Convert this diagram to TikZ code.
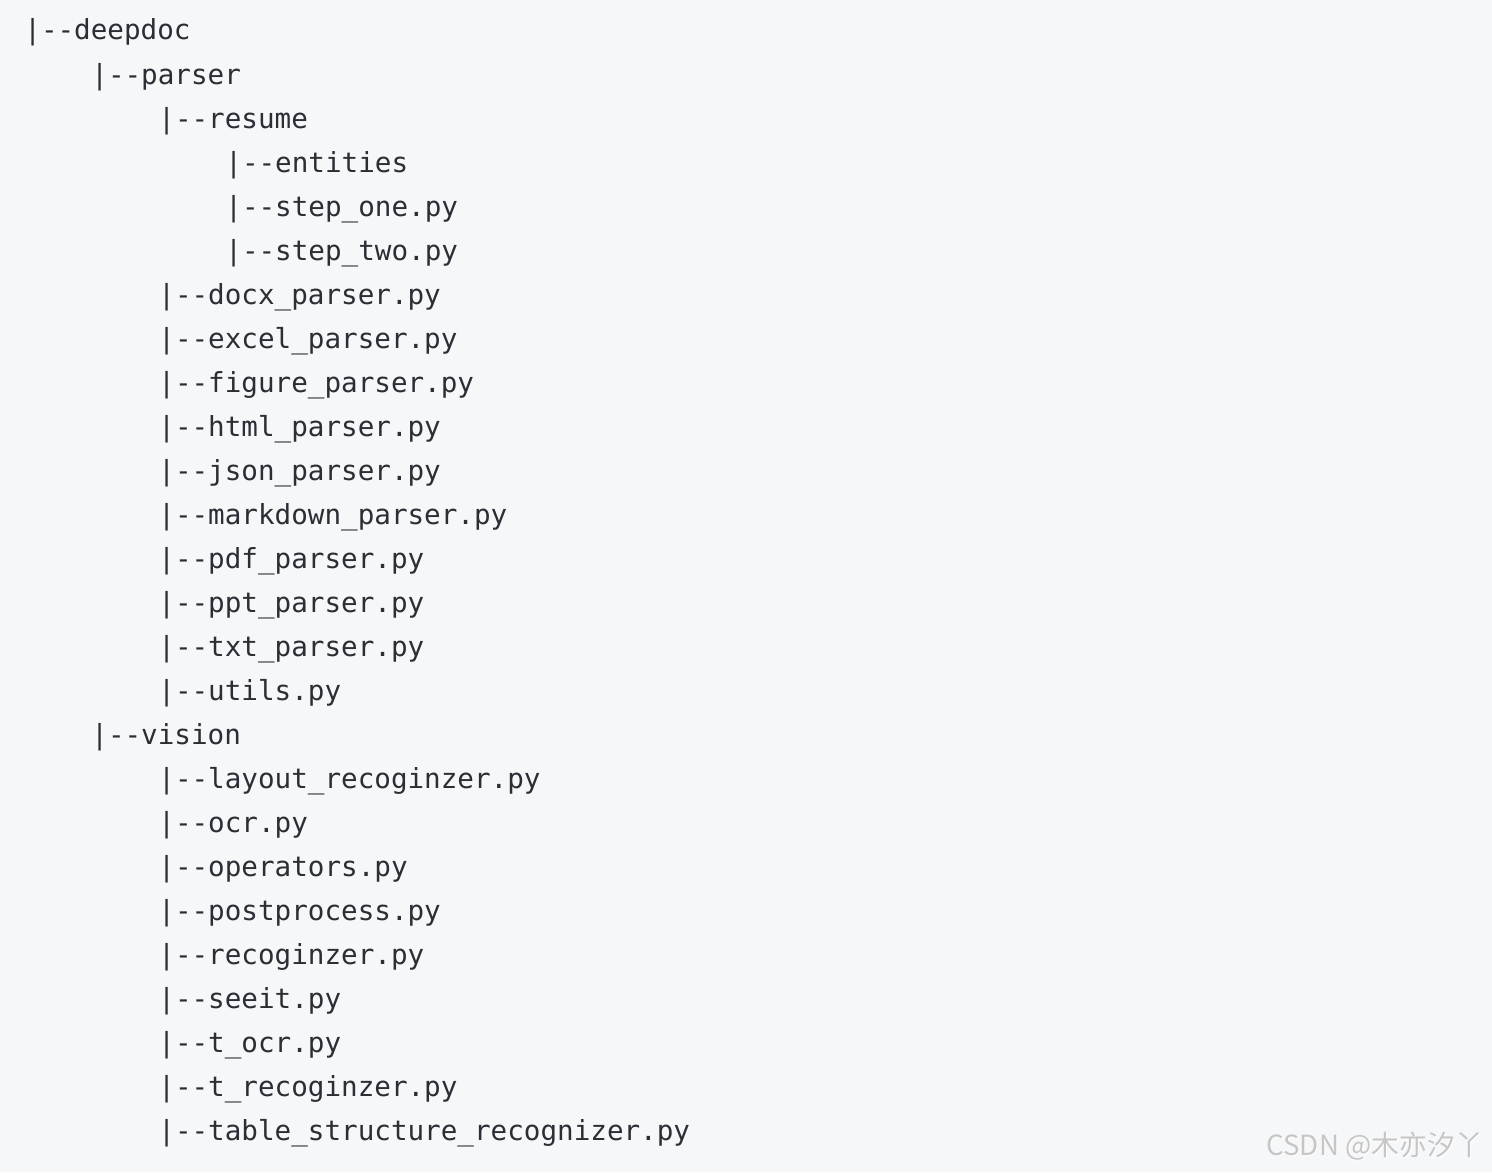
\documentclass[tikz,border=0pt]{standalone}
\usepackage{fontspec}
\setmonofont{DejaVu Sans Mono}
\newfontfamily\cjkfont{Noto Sans CJK SC}
\definecolor{pagebg}{HTML}{F6F7F9}
\definecolor{codetext}{HTML}{2A2E35}
\definecolor{markgray}{HTML}{C6C6C6}
\tikzset{
  entry/.style={anchor=base west, inner sep=0pt, text=codetext,
    font=\ttfamily\fontsize{13.8}{16}\selectfont},
  wmark/.style={anchor=west, inner sep=0pt, font=\cjkfont\fontsize{13.9}{17}\selectfont}
}
\begin{document}
\begin{tikzpicture}[x=0.5pt, y=-0.5pt]
		\def\xstart{24} \def\dx{67}
		\def\ystart{40} \def\dy{44}
		\fill[pagebg] (0,0) rectangle (1492,1172);
		\useasboundingbox (0,0) rectangle (1492,1172);
		% one line per file or folder: level/name
		\foreach \lvl/\name [count=\i from 0] in {0/deepdoc, 1/parser, 2/resume,
			3/entities, 3/step\_one.py, 3/step\_two.py, 2/docx\_parser.py,
			2/excel\_parser.py, 2/figure\_parser.py, 2/html\_parser.py,
			2/json\_parser.py, 2/markdown\_parser.py, 2/pdf\_parser.py,
			2/ppt\_parser.py, 2/txt\_parser.py, 2/utils.py, 1/vision,
			2/layout\_recoginzer.py, 2/ocr.py, 2/operators.py, 2/postprocess.py,
			2/recoginzer.py, 2/seeit.py, 2/t\_ocr.py, 2/t\_recoginzer.py,
			2/table\_structure\_recognizer.py}
			\node[entry] (f\i) at (\xstart+\lvl*\dx, \ystart+\i*\dy) {|-{}-\name};
		% watermark
		\node[wmark, text=white] (markshadow) at (1267,1147) {CSDN @木亦汐丫};
		\node[wmark, text=markgray] (mark) at (1266,1146) {CSDN @木亦汐丫};
	\end{tikzpicture}
\end{document}
